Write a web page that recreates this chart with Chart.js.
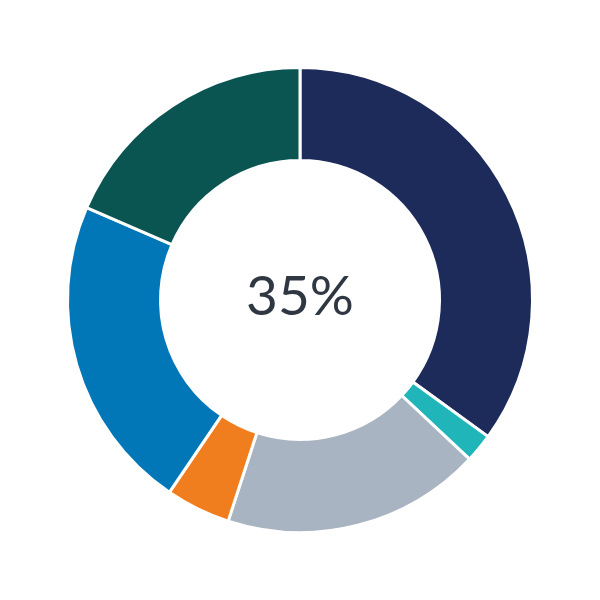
<!DOCTYPE html>
<html lang="en">
<head>
  <meta charset="UTF-8" />
  <title>Donut</title>
  <style>
    * { box-sizing: border-box; margin: 0; padding: 0; }
    body, html { width: 600px; height: 600px; background: #fff; overflow: hidden; }
    #wrap { position: relative; width: 600px; height: 600px; }
    #centerLabel {
      position: absolute; left: 0; top: -6px; width: 600px; height: 600px;
      display: flex; align-items: center; justify-content: center;
      font-family: 'Lato', 'Open Sans', sans-serif; font-weight: 400;
      font-size: 55px; color: #2f3742; pointer-events: none;
    }
  </style>
</head>
<body>
  <div id="wrap">
    <canvas id="donut" width="600" height="600"></canvas>
    <div id="centerLabel">35%</div>
  </div>

  <script src="https://cdn.jsdelivr.net/npm/chart.js"></script>
  <script>
    const categories = ['A', 'B', 'C', 'D', 'E', 'F'];
    const shares = [35, 2, 18, 4.5, 22, 18.5];
    const sliceColors = ['#1d2b5b', '#20b5b8', '#a8b4c1', '#f07e1f', '#0177b7', '#0a5452'];

    new Chart(document.getElementById('donut'), {
      type: 'doughnut',
      data: {
        labels: categories,
        datasets: [{
          data: shares,
          backgroundColor: sliceColors,
          borderColor: '#ffffff',
          borderWidth: 3
        }]
      },
      options: {
        responsive: false,
        animation: false,
        cutout: '60%',
        layout: { padding: 66 },
        plugins: {
          legend: { display: false },
          tooltip: { enabled: false }
        }
      }
    });
  </script>
</body>
</html>
